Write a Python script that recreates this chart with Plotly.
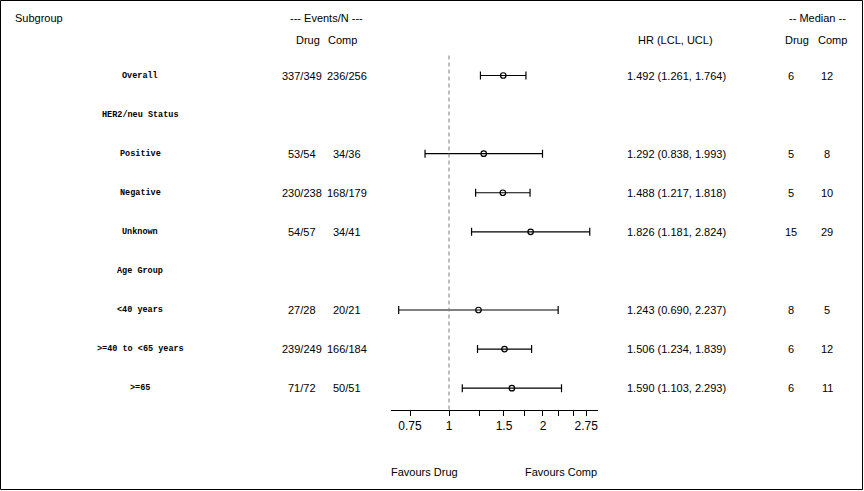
import plotly.graph_objects as go

W, H = 864, 491

# ---- data ----
subgroups = ["Overall", "HER2/neu Status", "Positive", "Negative", "Unknown",
             "Age Group", "<40 years", ">=40 to <65 years", ">=65"]
events_drug = ["337/349", "", "53/54", "230/238", "54/57", "", "27/28", "239/249", "71/72"]
events_comp = ["236/256", "", "34/36", "168/179", "34/41", "", "20/21", "166/184", "50/51"]
hr  = [1.492, None, 1.292, 1.488, 1.826, None, 1.243, 1.506, 1.590]
lcl = [1.261, None, 0.838, 1.217, 1.181, None, 0.690, 1.234, 1.103]
ucl = [1.764, None, 1.993, 1.818, 2.824, None, 2.237, 1.839, 2.293]
median_drug = ["6", "", "5", "5", "15", "", "8", "6", "6"]
median_comp = ["12", "", "8", "10", "29", "", "5", "12", "11"]
tick_vals = [0.75, 1.0, 1.25, 1.5, 1.75, 2.0, 2.25, 2.5, 2.75]
tick_text = ["0.75", "1", "", "1.5", "", "2", "", "", "2.75"]

# ---- layout helpers (pixel geometry) ----
ROW0, DROW = 75.5, 39.08
AX_PX = 409.5
def px(x):
    return x / W
def py(y):
    return 1 - y / H

rows = list(range(len(subgroups)))
y_top = -ROW0 / DROW
y_bot = (AX_PX - ROW0) / DROW

SANS = "Liberation Sans, Arial, sans-serif"
MONO = "Liberation Mono, DejaVu Sans Mono, monospace"
BLACK = "#000000"

fig = go.Figure()

# forest points with CI
pts = [i for i in rows if hr[i] is not None]
fig.add_trace(go.Scatter(
    x=[hr[i] for i in pts], y=[i for i in pts],
    mode="markers",
    marker=dict(symbol="circle-open", size=5.5, color=BLACK, line=dict(width=1.2, color=BLACK)),
    error_x=dict(type="data", symmetric=False,
                 array=[ucl[i] - hr[i] for i in pts],
                 arrayminus=[hr[i] - lcl[i] for i in pts],
                 color=BLACK, thickness=1.2, width=4),
    showlegend=False, hoverinfo="skip"))

# reference line at HR = 1
fig.add_shape(type="line", xref="x", yref="paper", x0=1, x1=1,
              y0=py(AX_PX), y1=py(55), line=dict(color="#7f7f7f", width=1, dash="4px,3px"))

annotations = []
def txt(text, x, y, yref="y", font=SANS, size=11, weight=None, xanchor="center"):
    f = dict(family=font, size=size, color=BLACK)
    if weight:
        f["weight"] = weight
    annotations.append(dict(text=text, x=px(x), xref="paper", y=y, yref=yref,
                            showarrow=False, xanchor=xanchor, yanchor="middle", font=f))

# headers
txt("Subgroup", 13, py(18), yref="paper", xanchor="left")
txt("--- Events/N ---", 326, py(18), yref="paper")
txt("-- Median --", 817, py(18), yref="paper")
txt("Drug", 308, py(40), yref="paper")
txt("Comp", 342, py(40), yref="paper")
txt("HR (LCL, UCL)", 675, py(40), yref="paper")
txt("Drug", 797, py(40), yref="paper")
txt("Comp", 832, py(40), yref="paper")

for i in rows:
    txt(subgroups[i], 140, i, font=MONO, size=8.5, weight=700)
    if events_drug[i]:
        txt(events_drug[i], 302, i)
        txt(events_comp[i], 347, i)
    if hr[i] is not None:
        txt(f"{hr[i]:.3f} ({lcl[i]:.3f}, {ucl[i]:.3f})", 676, i)
        txt(median_drug[i], 791, i)
        txt(median_comp[i], 827, i)

txt("Favours Drug", 424.5, py(472), yref="paper")
txt("Favours Comp", 561, py(472), yref="paper")

# outer frame
fig.add_shape(type="rect", xref="paper", yref="paper",
              x0=px(0.5), x1=px(862.5), y0=py(489.5), y1=py(0.5),
              line=dict(color=BLACK, width=1), fillcolor="rgba(0,0,0,0)")

fig.update_layout(
    width=W, height=H, margin=dict(l=0, r=0, t=0, b=0),
    paper_bgcolor="white", plot_bgcolor="white",
    annotations=annotations,
    xaxis=dict(type="log", domain=[px(391), px(598)],
               range=[-0.1858, 0.4773],
               tickmode="array", tickvals=tick_vals, ticktext=tick_text,
               ticks="outside", ticklen=5, tickwidth=1, tickcolor=BLACK,
               showline=True, linecolor=BLACK, linewidth=1,
               showgrid=False, zeroline=False,
               tickfont=dict(family=SANS, size=12, color=BLACK)),
    yaxis=dict(domain=[py(AX_PX), 1], range=[y_bot, y_top],
               visible=False, showgrid=False, zeroline=False),
    showlegend=False,
)

fig.write_html("out.html", config={"displayModeBar": False},
               post_script="document.body.style.margin='0';document.body.style.overflow='hidden';")
